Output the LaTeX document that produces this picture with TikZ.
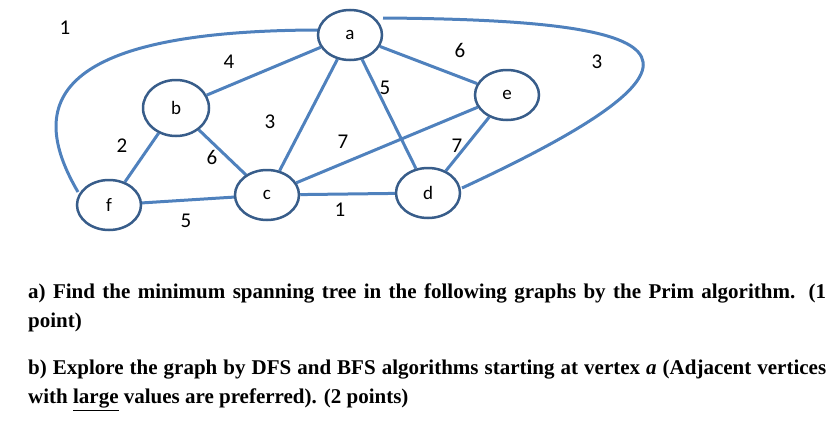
\documentclass[tikz,border=0pt]{standalone}
\usepackage{fontspec}
\setmainfont{Liberation Serif}
\newfontfamily\lblfont{Carlito}
\usetikzlibrary{shapes.geometric}
\pgfdeclarelayer{bg}
\pgfsetlayers{bg,main}
\definecolor{edgeblue}{RGB}{79,129,189}
\definecolor{rimblue}{RGB}{56,93,138}
\begin{document}
\begin{tikzpicture}[x=1pt,y=-1pt,
  vtx/.style={ellipse,draw=rimblue,line width=2.5pt,fill=white,minimum width=64pt,minimum height=50pt,inner sep=0pt,font=\lblfont\fontsize{19}{19}\selectfont},
  edg/.style={draw=edgeblue,line width=3pt},
  wt/.style={font=\lblfont\fontsize{21}{21}\selectfont},
  para/.style={anchor=north west,text width=798pt,align=justify,inner sep=0pt,font=\bfseries\fontsize{21}{29}\selectfont}]
\useasboundingbox (0,0) rectangle (837,423);
\node[vtx] (a) at (350,35) {a};
\node[vtx,minimum width=66pt,minimum height=56pt] (b) at (176,108) {b};
\node[vtx] (e) at (507,95) {e};
\node[vtx] (f) at (109,205) {f};
\node[vtx] (c) at (267,195) {c};
\node[vtx] (d) at (428,193) {d};
\coordinate (fa1) at (78,192);
\coordinate (fa2) at (322,30);
\coordinate (ad1) at (383,18);
\coordinate (ad2) at (462,188);
\begin{pgfonlayer}{bg}
\draw[edg] (fa1) .. controls (30,110) and (40,30) .. (fa2);
\draw[edg] (ad1) .. controls (660,20) and (760,50) .. (ad2);
\draw[edg] (a) -- (b);
\draw[edg] (a) -- (c);
\draw[edg] (a) -- (d);
\draw[edg] (a) -- (e);
\draw[edg] (b) -- (c);
\draw[edg] (b) -- (f);
\draw[edg] (c) -- (e);
\draw[edg] (e) -- (d);
\draw[edg] (c) -- (d);
\draw[edg] (f) -- (c);
\end{pgfonlayer}
\node[wt] (w1) at (65,28) {1};
\node[wt] (w2) at (597,62) {3};
\node[wt] (w3) at (229,62) {4};
\node[wt] (w4) at (270,122) {3};
\node[wt] (w5) at (385,88) {5};
\node[wt] (w6) at (460,50) {6};
\node[wt] (w7) at (212,157) {6};
\node[wt] (w8) at (122,146) {2};
\node[wt] (w9) at (343,142) {7};
\node[wt] (w10) at (457,146) {7};
\node[wt] (w11) at (340,210) {1};
\node[wt] (w12) at (186,221) {5};
\node[para] (pa) at (28,284) {a) Find the minimum spanning tree in the following graphs by the Prim algorithm. (1 point)};
\node[para] (pb) at (28,360) {b) Explore the graph by DFS and BFS algorithms starting at vertex \textit{a} (Adjacent vertices with \underline{large} values are preferred). (2 points)};
\end{tikzpicture}
\end{document}
